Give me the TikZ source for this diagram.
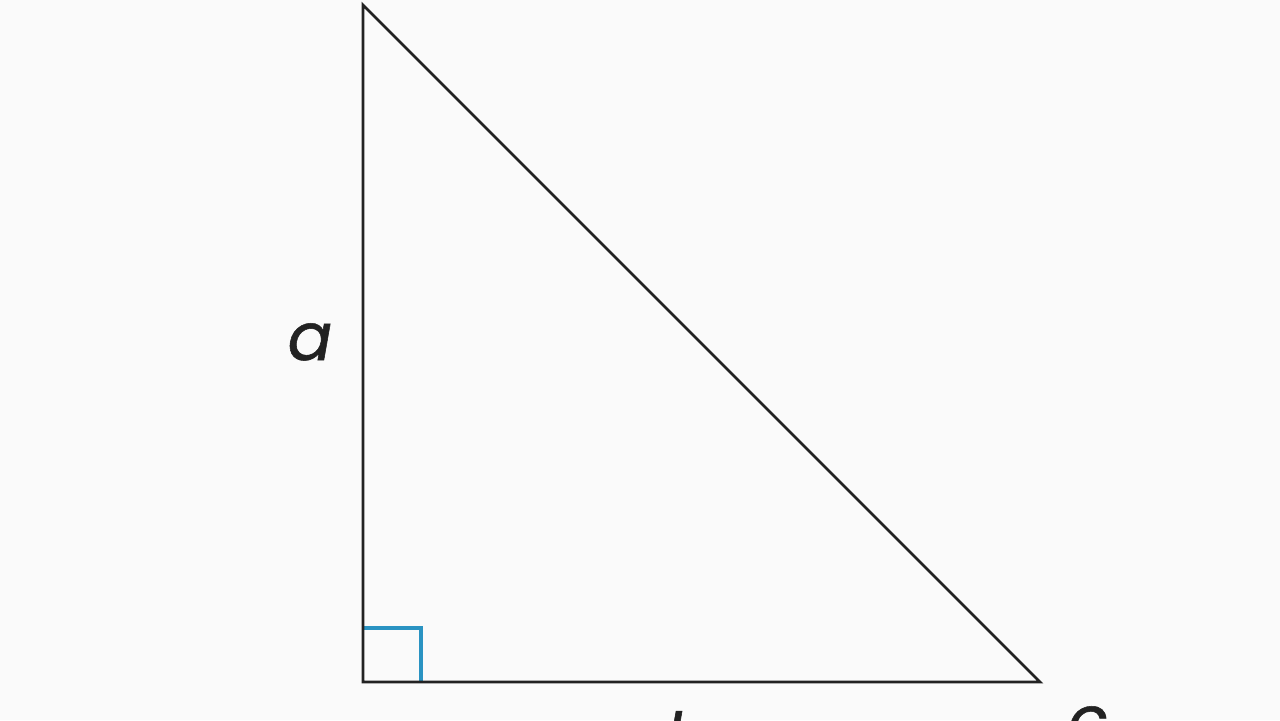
\documentclass[tikz,border=0pt]{standalone}
\usepackage{fontspec}
\newfontfamily\labelfont[FakeBold=0.8]{Poppins}
\usepackage{tikz}
\definecolor{bgcol}{HTML}{FAFAFA}
\definecolor{linecol}{HTML}{222222}
\definecolor{anglecol}{HTML}{2A93C2}

\begin{document}
\begin{tikzpicture}[x=0.5pt, y=-0.5pt, every node/.style={font=\labelfont\itshape\fontsize{33}{40}\selectfont, text=linecol, inner sep=0pt}]
  % Background
  \fill[bgcol] (0,0) rectangle (1280,720);
  \useasboundingbox (0,0) rectangle (1280,720);

  % Vertices
  \coordinate (top) at (363,5);
  \coordinate (right) at (363,682);
  \coordinate (end) at (1040,682);

  % Right angle
  \coordinate (sqa) at (363,628);
  \coordinate (sqb) at (421,628);
  \coordinate (sqc) at (421,682);
  \draw[line width=1.6pt, anglecol] (sqa) -- (sqb) -- (sqc);

  % Triangle
  \draw[line width=1.4pt, linecol, line join=miter] (top) -- (right) -- (end) -- cycle;

  % Labels
  \node[anchor=base] (la) at (310,360) {a};
  \node[anchor=base] (lb) at (688,760) {b};
  \node[anchor=base] (lc) at (1088,743) {c};
\end{tikzpicture}
\end{document}
